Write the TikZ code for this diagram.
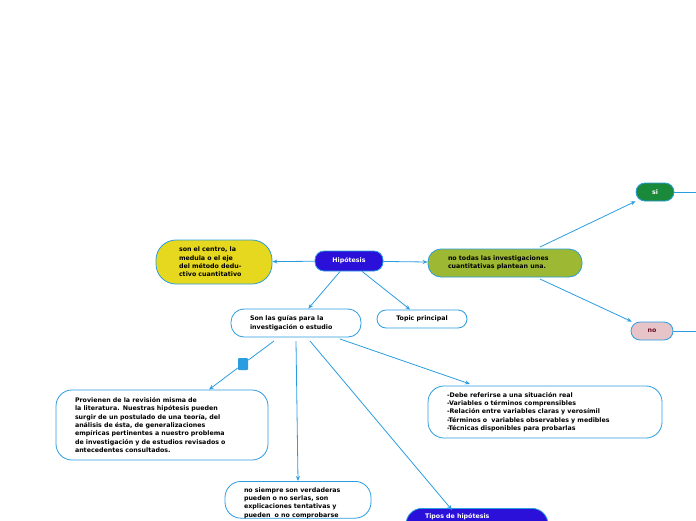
\documentclass[tikz,border=0pt]{standalone}
\usepackage{fontspec}
\setmainfont{DejaVu Sans}
\usetikzlibrary{arrows.meta}
\definecolor{linkblue}{HTML}{2A9DE0}
\definecolor{hipblue}{HTML}{2A10D8}
\definecolor{yel}{HTML}{E6D81F}
\definecolor{olive}{HTML}{9DB832}
\definecolor{sigreen}{HTML}{1A8A3A}
\definecolor{nopink}{HTML}{E6C4C8}
\definecolor{nored}{HTML}{6A1020}
\tikzset{
  topic/.style={draw=linkblue, rounded corners=9pt, line width=0.8pt, font=\bfseries\fontsize{6.3}{8.4}\selectfont, align=center, inner xsep=0pt, inner ysep=0pt},
  textbox/.style={topic, align=left, inner xsep=19pt, text width=#1}, 
  link/.style={draw=linkblue, line width=0.8pt, -{Stealth[length=5pt,width=4pt]}}
}
\begin{document}
\begin{tikzpicture}[x=1pt, y=-1pt]
\useasboundingbox (0,0) rectangle (696,520);
%% nodes
\node[topic, fill=hipblue, text=white, minimum width=68pt, minimum height=20pt] (hip) at (349,261) {Hipótesis};
\node[textbox=70pt, inner xsep=23pt, fill=yel, rounded corners=20pt, minimum height=44pt] (centro) at (214,262) {son el centro, la\\medula o el eje\\del método dedu-\\ctivo cuantitativo};
\node[textbox=114pt, inner xsep=20pt, fill=olive, rounded corners=13pt, minimum height=28pt] (todas) at (505,263) {no todas las investigaciones\\cuantitativas plantean una.};
\node[topic, fill=sigreen, text=white, minimum width=38pt, minimum height=18pt] (si) at (655,192) {si};
\node[topic, fill=nopink, text=nored, minimum width=42pt, minimum height=18pt] (no) at (652,331) {no};
\node[textbox=92pt, fill=white, rounded corners=13pt, minimum height=28pt] (guias) at (296,323) {Son las guías para la\\investigación o estudio};
\node[topic, fill=white, minimum width=90pt, minimum height=18pt] (topic) at (422,319) {Topic principal};
\node[textbox=174pt, fill=white, rounded corners=16pt, minimum height=70pt] (provienen) at (162,425) {Provienen de la revisión misma de\\la literatura. Nuestras hipótesis pueden\\surgir de un postulado de una teoría, del\\análisis de ésta, de generalizaciones\\empíricas pertinentes a nuestro problema\\de investigación y de estudios revisados o\\antecedentes consultados.};
\node[textbox=196pt, fill=white, rounded corners=16pt, minimum height=52pt] (debe) at (545,412) {-Debe referirse a una situación real\\-Variables o términos comprensibles\\-Relación entre variables claras y verosímil\\-Términos o\ \ variables observables y medibles\\-Técnicas disponibles para probarlas};
\node[textbox=108pt, fill=white, rounded corners=16pt, anchor=north, inner ysep=6pt, text depth=20pt] (siempre) at (298,481) {no siempre son verdaderas\\pueden o no serlas, son\\explicaciones tentativas y\\pueden\ \ o no comprobarse};
\node[textbox=104pt, fill=hipblue, text=white, rounded corners=16pt, anchor=north, inner ysep=5pt, text depth=26pt] (tipos) at (477,508) {Tipos de hipótesis};
\node[fill=linkblue, rounded corners=1pt, minimum width=10pt, minimum height=12pt, inner sep=0pt] (sq) at (243,364) {};
\coordinate (siend) at (696,192);
\coordinate (noend) at (696,331);
%% connectors
\draw[link] (hip) -- (centro);
\draw[link] (hip) -- (todas);
\draw[link] (hip) -- (guias);
\draw[link] (hip) -- (topic);
\draw[link] (540,247) -- (si);
\draw[link] (540,279) -- (no);
\draw[draw=linkblue, line width=0.8pt] (si) -- (siend);
\draw[draw=linkblue, line width=0.8pt] (no) -- (noend);
\draw[draw=linkblue, line width=0.8pt] (274,341) -- (sq);
\draw[link] (sq) -- (provienen);
\draw[link] (296,341) -- (siempre.north);
\draw[link] (310,341) -- (452,510);
\draw[link] (340,339) -- (470,384);
\end{tikzpicture}
\end{document}
